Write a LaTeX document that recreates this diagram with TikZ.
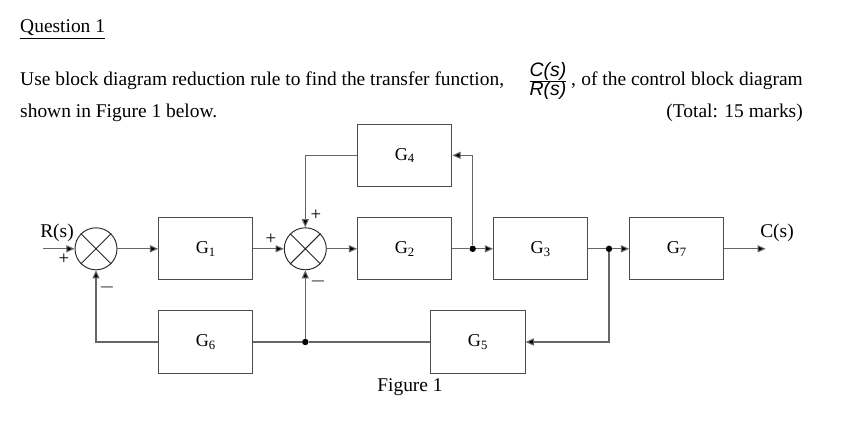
\documentclass[tikz,border=0pt]{standalone}
\usepackage{fontspec}
\setmainfont{Liberation Serif}
\newfontfamily\fracfont{Liberation Sans}
\usetikzlibrary{arrows.meta}
\begin{document}
\begin{tikzpicture}[x=0.03cm,y=-0.03cm,
  blk/.style={draw=black!70,line width=0.8pt,minimum width=94.3*0.03cm,minimum height=62.3*0.03cm,inner sep=0pt,font=\fontsize{15.5}{18}\selectfont},
  sumj/.style={draw=black!85,line width=0.8pt,circle,minimum size=42*0.03cm,inner sep=0pt},
  ln/.style={draw=black!60,line width=0.9pt},
  arr/.style={ln,-{Triangle[length=7pt,width=6pt,fill=black]}},
  dot/.style={circle,fill=black,inner sep=0pt,minimum size=5.5pt},
  sgn/.style={font=\fontsize{16}{18}\selectfont,inner sep=1pt},
  txt/.style={font=\fontsize{16.6}{19}\selectfont,inner sep=0pt}]
\useasboundingbox (0,0) rectangle (843,428);

% heading and question
\node[txt,anchor=base west] (q) at (20,33) {\underline{Question 1}};
\node[txt,anchor=base west] (l1) at (20,86) {Use block diagram reduction rule to find the transfer function,};
\node[txt,anchor=base west] (fr) at (528,86) {$\frac{\hbox{\fracfont\itshape C(s)}}{\hbox{\fracfont\itshape R(s)}}$\,,};
\node[txt,anchor=base east] (l1b) at (803,86) {of the control block diagram};
\node[txt,anchor=base west] (l2) at (20,118) {shown in Figure 1 below.};
\node[txt,anchor=base east] (tot) at (803,118) {(Total: 15 marks)};

% blocks
\node[blk] (g1) at (205.8,248.8) {G\textsubscript{1}};
\node[blk] (g2) at (404.8,248.8) {G\textsubscript{2}};
\node[blk] (g4) at (404.8,155.3) {G\textsubscript{4}};
\node[blk] (g3) at (540.7,248.8) {G\textsubscript{3}};
\node[blk] (g7) at (676.8,248.8) {G\textsubscript{7}};
\node[blk] (g6) at (205.8,342) {G\textsubscript{6}};
\node[blk] (g5) at (478,342) {G\textsubscript{5}};

% summing junctions
\node[sumj] (s1) at (96,248.8) {};
\draw[draw=black!85,line width=0.8pt] (s1.45) -- (s1.225) (s1.135) -- (s1.315);
\node[sumj] (s2) at (305.3,248.8) {};
\draw[draw=black!85,line width=0.8pt] (s2.45) -- (s2.225) (s2.135) -- (s2.315);

% junction points
\node[dot] (j1) at (472.7,248.8) {};
\node[dot] (j2) at (609,248.8) {};
\node[dot] (j3) at (305.3,342) {};

% in / out
\coordinate (rin) at (43,248.8);
\coordinate (cout) at (765.7,248.8);
\node[txt] (rl) at (57,233) {R(s)};
\node[txt] (cl) at (777,233) {C(s)};
\draw[arr] (rin) -- (s1);
\draw[arr] (j2) -- (g7);
\draw[arr] (g7) -- (cout);

% forward path
\draw[arr] (s1) -- (g1);
\draw[arr] (g1) -- (s2);
\draw[arr] (s2) -- (g2);
\draw[ln] (g2) -- (j1);
\draw[arr] (j1) -- (g3);
\draw[ln] (g3) -- (j2);

% G4 loop
\draw[arr] (j1) |- (g4.east);
\draw[arr] (g4.west) -| (s2);

% G5 / G6 loop
\draw[arr] (j2) |- (g5.east);
\draw[ln] (g5) -- (j3);
\draw[ln] (j3) -- (g6);
\draw[arr] (j3) -- (s2);
\draw[arr] (g6.west) -| (s1);

% signs
\node[sgn] (p1) at (64,259) {+};
\node[sgn] (m1) at (107,287) {$-$};
\node[sgn] (p2) at (271,239) {+};
\node[sgn] (p3) at (316,215) {+};
\node[sgn] (m2) at (318,281) {$-$};

\node[txt] (fig) at (410,387) {Figure 1};
\end{tikzpicture}
\end{document}
